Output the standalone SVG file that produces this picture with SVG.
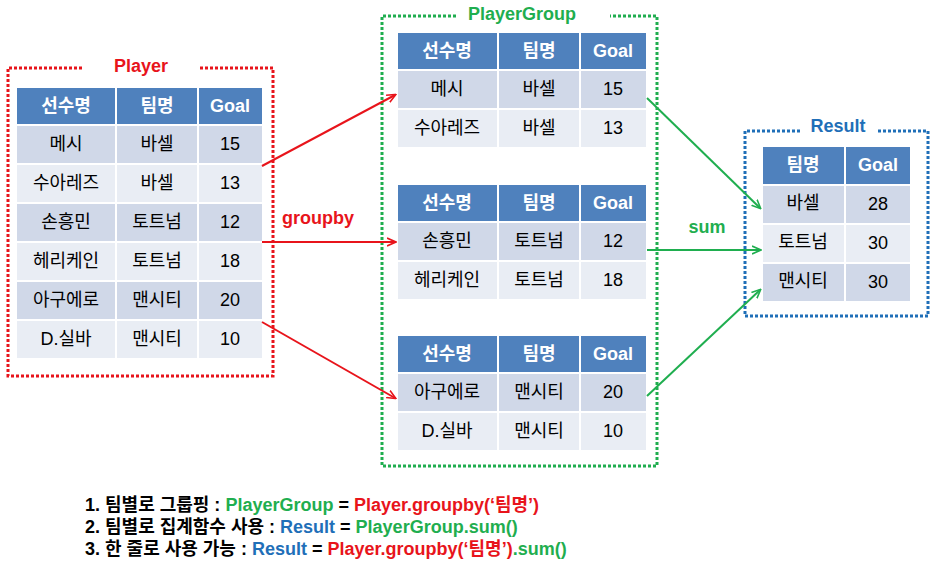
<svg xmlns="http://www.w3.org/2000/svg" width="938" height="569" viewBox="0 0 938 569">
<style>
text{font-family:"Liberation Sans","Noto Sans CJK KR",sans-serif;text-anchor:middle}
.h{fill:#4F81BD;stroke:#fff;stroke-width:2}
.a{fill:#D0D8E8;stroke:#fff;stroke-width:2}
.b{fill:#E9EDF4;stroke:#fff;stroke-width:2}
.ht{fill:#fff;font-weight:bold;font-size:18px}
.ct{fill:#000;font-size:18px}
.tt{font-weight:bold;font-size:18px}
.bt{font-weight:bold;font-size:18px;text-anchor:start}
</style>
<defs>
<marker id="mr" markerWidth="10" markerHeight="10" refX="8" refY="5" orient="auto" markerUnits="userSpaceOnUse"><path d="M0,1 L9,5 L0,9" fill="none" stroke="#E8141B" stroke-width="1.6"/></marker>
<marker id="mg" markerWidth="10" markerHeight="10" refX="8" refY="5" orient="auto" markerUnits="userSpaceOnUse"><path d="M0,1 L9,5 L0,9" fill="none" stroke="#1FAE4F" stroke-width="1.6"/></marker>
</defs>
<rect width="938" height="569" fill="#fff"/>
<g id="player">
<path d="M82,68 H8 V376 H273 V68 H200" fill="none" stroke="#E8141B" stroke-width="3" stroke-dasharray="3,2"/>
<text x="141" y="72" class="tt" fill="#E8141B">Player</text>
<rect x="16" y="87" width="100" height="38" class="h"/><rect x="116" y="87" width="82" height="38" class="h"/><rect x="198" y="87" width="65" height="38" class="h"/>
<text x="66" y="112" class="ht">선수명</text><text x="157" y="112" class="ht">팀명</text><text x="230" y="112" class="ht">Goal</text>
<g class="a"><rect x="16" y="125" width="100" height="39"/><rect x="116" y="125" width="82" height="39"/><rect x="198" y="125" width="65" height="39"/></g>
<g class="b"><rect x="16" y="164" width="100" height="39"/><rect x="116" y="164" width="82" height="39"/><rect x="198" y="164" width="65" height="39"/></g>
<g class="a"><rect x="16" y="203" width="100" height="39"/><rect x="116" y="203" width="82" height="39"/><rect x="198" y="203" width="65" height="39"/></g>
<g class="b"><rect x="16" y="242" width="100" height="39"/><rect x="116" y="242" width="82" height="39"/><rect x="198" y="242" width="65" height="39"/></g>
<g class="a"><rect x="16" y="281" width="100" height="39"/><rect x="116" y="281" width="82" height="39"/><rect x="198" y="281" width="65" height="39"/></g>
<g class="b"><rect x="16" y="320" width="100" height="39"/><rect x="116" y="320" width="82" height="39"/><rect x="198" y="320" width="65" height="39"/></g>
<g class="ct">
<text x="66" y="150">메시</text><text x="157" y="150">바셀</text><text x="230" y="150">15</text>
<text x="66" y="189">수아레즈</text><text x="157" y="189">바셀</text><text x="230" y="189">13</text>
<text x="66" y="228">손흥민</text><text x="157" y="228">토트넘</text><text x="230" y="228">12</text>
<text x="66" y="267">헤리케인</text><text x="157" y="267">토트넘</text><text x="230" y="267">18</text>
<text x="66" y="306">아구에로</text><text x="157" y="306">맨시티</text><text x="230" y="306">20</text>
<text x="66" y="345">D.실바</text><text x="157" y="345">맨시티</text><text x="230" y="345">10</text>
</g>
</g>
<g id="playergroup">
<path d="M456,16 H382 V466 H657 V16 H610" fill="none" stroke="#1FAE4F" stroke-width="3" stroke-dasharray="3,2"/>
<text x="522" y="20" class="tt" fill="#1FAE4F">PlayerGroup</text>
<g class="h"><rect x="397" y="32" width="101" height="38"/><rect x="498" y="32" width="82" height="38"/><rect x="580" y="32" width="67" height="38"/>
<rect x="397" y="184" width="101" height="38"/><rect x="498" y="184" width="82" height="38"/><rect x="580" y="184" width="67" height="38"/>
<rect x="397" y="335" width="101" height="38"/><rect x="498" y="335" width="82" height="38"/><rect x="580" y="335" width="67" height="38"/></g>
<g class="a"><rect x="397" y="70" width="101" height="39"/><rect x="498" y="70" width="82" height="39"/><rect x="580" y="70" width="67" height="39"/>
<rect x="397" y="222" width="101" height="39"/><rect x="498" y="222" width="82" height="39"/><rect x="580" y="222" width="67" height="39"/>
<rect x="397" y="373" width="101" height="39"/><rect x="498" y="373" width="82" height="39"/><rect x="580" y="373" width="67" height="39"/></g>
<g class="b"><rect x="397" y="109" width="101" height="39"/><rect x="498" y="109" width="82" height="39"/><rect x="580" y="109" width="67" height="39"/>
<rect x="397" y="261" width="101" height="39"/><rect x="498" y="261" width="82" height="39"/><rect x="580" y="261" width="67" height="39"/>
<rect x="397" y="412" width="101" height="39"/><rect x="498" y="412" width="82" height="39"/><rect x="580" y="412" width="67" height="39"/></g>
<g class="ht"><text x="447" y="57">선수명</text><text x="539" y="57">팀명</text><text x="613" y="57">Goal</text>
<text x="447" y="209">선수명</text><text x="539" y="209">팀명</text><text x="613" y="209">Goal</text>
<text x="447" y="360">선수명</text><text x="539" y="360">팀명</text><text x="613" y="360">Goal</text></g>
<g class="ct">
<text x="447" y="95">메시</text><text x="539" y="95">바셀</text><text x="613" y="95">15</text>
<text x="447" y="134">수아레즈</text><text x="539" y="134">바셀</text><text x="613" y="134">13</text>
<text x="447" y="247">손흥민</text><text x="539" y="247">토트넘</text><text x="613" y="247">12</text>
<text x="447" y="286">헤리케인</text><text x="539" y="286">토트넘</text><text x="613" y="286">18</text>
<text x="447" y="398">아구에로</text><text x="539" y="398">맨시티</text><text x="613" y="398">20</text>
<text x="447" y="437">D.실바</text><text x="539" y="437">맨시티</text><text x="613" y="437">10</text>
</g>
</g>
<g id="result">
<path d="M800,131 H745 V316 H928 V131 H878" fill="none" stroke="#1F6FB8" stroke-width="3" stroke-dasharray="3,2"/>
<text x="838" y="132" class="tt" fill="#1F6FB8">Result</text>
<g class="h"><rect x="762" y="146" width="83" height="39"/><rect x="845" y="146" width="66" height="39"/></g>
<g class="a"><rect x="762" y="185" width="83" height="39"/><rect x="845" y="185" width="66" height="39"/><rect x="762" y="263" width="83" height="39"/><rect x="845" y="263" width="66" height="39"/></g>
<g class="b"><rect x="762" y="224" width="83" height="39"/><rect x="845" y="224" width="66" height="39"/></g>
<g class="ht"><text x="803" y="171">팀명</text><text x="878" y="171">Goal</text></g>
<g class="ct"><text x="803" y="209">바셀</text><text x="878" y="210">28</text>
<text x="803" y="248">토트넘</text><text x="878" y="249">30</text>
<text x="803" y="287">맨시티</text><text x="878" y="288">30</text></g>
</g>
<g id="connectors" fill="none" stroke-width="2">
<g stroke="#E8141B" marker-end="url(#mr)"><line x1="262" y1="166" x2="395" y2="95"/><line x1="262" y1="242" x2="395" y2="242"/><line x1="262" y1="322" x2="395" y2="398"/></g>
<g stroke="#1FAE4F" marker-end="url(#mg)"><line x1="647" y1="98" x2="760" y2="208"/><line x1="647" y1="250" x2="760" y2="250"/><line x1="647" y1="396" x2="760" y2="290"/></g>
<text x="318" y="224" class="tt" fill="#E8141B" stroke="none">groupby</text>
<text x="707" y="233" class="tt" fill="#1FAE4F" stroke="none">sum</text>
</g>
<g id="notes">
<text x="85" y="511" class="bt"><tspan fill="#000">1. 팀별로 그룹핑 : </tspan><tspan fill="#1FAE4F">PlayerGroup</tspan><tspan fill="#000"> = </tspan><tspan fill="#E8141B">Player.groupby(‘팀명’)</tspan></text>
<text x="85" y="533" class="bt"><tspan fill="#000">2. 팀별로 집계함수 사용 : </tspan><tspan fill="#1F6FB8">Result</tspan><tspan fill="#000"> = </tspan><tspan fill="#1FAE4F">PlayerGroup.sum()</tspan></text>
<text x="85" y="555" class="bt"><tspan fill="#000">3. 한 줄로 사용 가능 : </tspan><tspan fill="#1F6FB8">Result</tspan><tspan fill="#000"> = </tspan><tspan fill="#E8141B">Player.groupby(‘팀명’)</tspan><tspan fill="#1FAE4F">.sum()</tspan></text>
</g>
</svg>
